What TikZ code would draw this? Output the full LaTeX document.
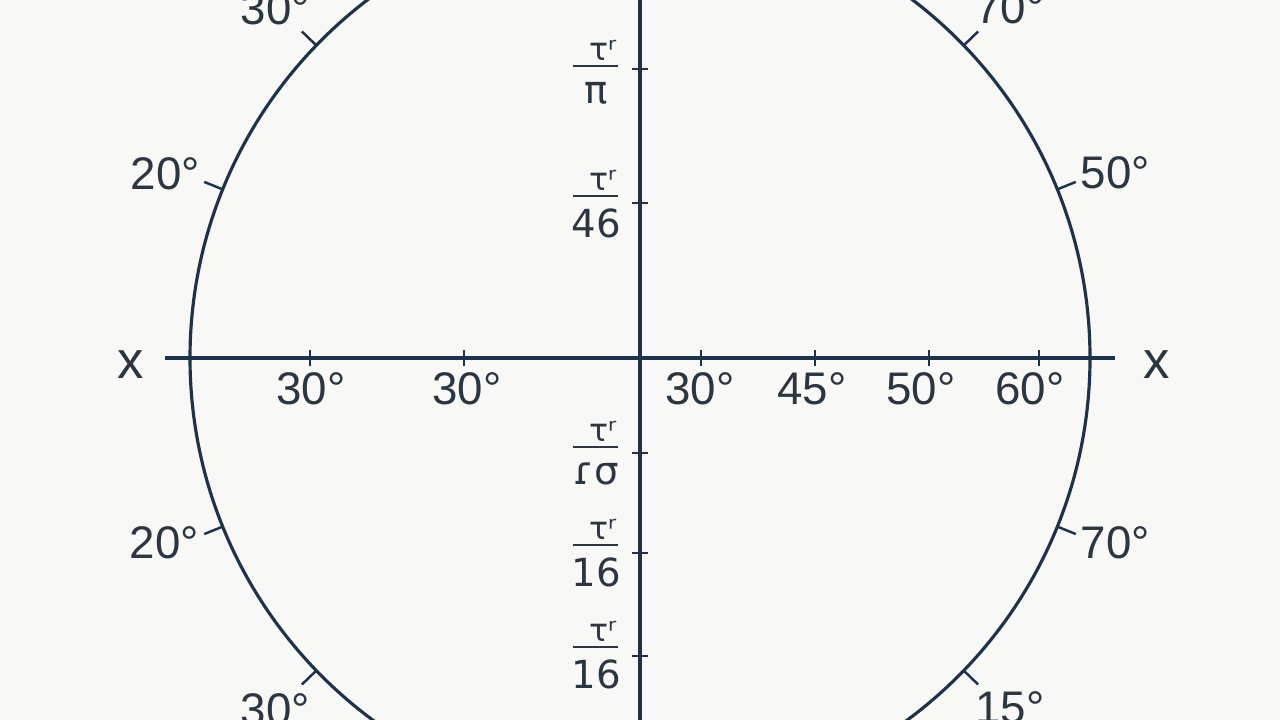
\documentclass[tikz,border=0pt]{standalone}
\usepackage{fontspec}
\setmainfont{Liberation Sans}
\newfontfamily\fracfont{DejaVu Sans}
\definecolor{inkline}{RGB}{30,50,76}
\definecolor{inktext}{RGB}{44,54,64}
\definecolor{paper}{RGB}{248,248,247}

\begin{document}
\begin{tikzpicture}[
    axisline/.style={draw=inkline, line width=0.9pt},
    axtick/.style={draw=inkline, line width=0.7pt},
    circtick/.style={draw=inkline, line width=0.7pt},
    deglabel/.style={text=inktext, font=\fontsize{13}{15}\selectfont, inner sep=0pt},
    axlabel/.style={text=inktext, font=\fontsize{15}{17}\selectfont, inner sep=0pt},
    numlab/.style={text=inktext, font=\fracfont\fontsize{9}{10}\selectfont, inner sep=0pt},
    denlab/.style={text=inktext, font=\fracfont\fontsize{11}{12}\selectfont, inner sep=0pt},
    fracbar/.style={draw=inktext, line width=0.8pt}
]
\useasboundingbox (0,0) rectangle (12.8,7.2);
\fill[paper] (0,0) rectangle (12.8,7.2);
\clip (0,0) rectangle (12.8,7.2);

\coordinate (O) at (6.4,3.62);

% circle and axes
\draw[axisline] (O) circle (4.5);
\coordinate (xl) at (1.65,3.62);
\coordinate (xr) at (11.15,3.62);
\coordinate (yt) at (6.4,7.3);
\coordinate (yb) at (6.4,-0.1);
\draw[axisline] (xl) -- (xr);
\draw[axisline, line width=1pt] (yb) -- (yt);

\node[axlabel] (xleft) at (1.31,3.55) {x};
\node[axlabel] (xright) at (11.57,3.55) {x};

% ticks on the x axis
\draw[axtick] (3.10,3.54) -- (3.10,3.70);
\draw[axtick] (4.64,3.54) -- (4.64,3.70);
\draw[axtick] (7.01,3.54) -- (7.01,3.70);
\draw[axtick] (8.15,3.54) -- (8.15,3.70);
\draw[axtick] (9.29,3.54) -- (9.29,3.70);
\draw[axtick] (10.39,3.54) -- (10.39,3.70);

\node[deglabel] (h1) at (3.11,3.31) {30°};
\node[deglabel] (h2) at (4.67,3.31) {30°};
\node[deglabel] (h3) at (7.00,3.31) {30°};
\node[deglabel] (h4) at (8.12,3.31) {45°};
\node[deglabel] (h5) at (9.21,3.31) {50°};
\node[deglabel] (h6) at (10.30,3.31) {60°};

% ticks on the y axis
\draw[axtick] (6.32,6.51) -- (6.48,6.51);
\draw[axtick] (6.32,5.17) -- (6.48,5.17);
\draw[axtick] (6.32,2.67) -- (6.48,2.67);
\draw[axtick] (6.32,1.67) -- (6.48,1.67);
\draw[axtick] (6.32,0.64) -- (6.48,0.64);

% fractions next to the y axis
\draw[fracbar] (5.73,6.54) -- (6.18,6.54);
\node[numlab] (n1) at (6.03,6.70) {τʳ};
\node[denlab] (d1) at (5.96,6.27) {π};

\draw[fracbar] (5.73,5.24) -- (6.18,5.24);
\node[numlab] (n2) at (6.03,5.40) {τʳ};
\node[denlab] (d2) at (5.96,4.97) {46};

\draw[fracbar] (5.73,2.73) -- (6.18,2.73);
\node[numlab] (n3) at (6.03,2.89) {τʳ};
\node[denlab] (d3) at (5.96,2.46) {ɾσ};

\draw[fracbar] (5.73,1.75) -- (6.18,1.75);
\node[numlab] (n4) at (6.03,1.91) {τʳ};
\node[denlab] (d4) at (5.96,1.48) {16};

\draw[fracbar] (5.73,0.73) -- (6.18,0.73);
\node[numlab] (n5) at (6.03,0.89) {τʳ};
\node[denlab] (d5) at (5.96,0.46) {16};

% ticks on the circle
\draw[circtick] ([shift={(158:4.5)}]O) -- ([shift={(158:4.7)}]O);
\draw[circtick] ([shift={(22:4.5)}]O) -- ([shift={(22:4.7)}]O);
\draw[circtick] ([shift={(202:4.5)}]O) -- ([shift={(202:4.7)}]O);
\draw[circtick] ([shift={(338:4.5)}]O) -- ([shift={(338:4.7)}]O);
\draw[circtick] ([shift={(136:4.5)}]O) -- ([shift={(136:4.7)}]O);
\draw[circtick] ([shift={(44:4.5)}]O) -- ([shift={(44:4.7)}]O);
\draw[circtick] ([shift={(224:4.5)}]O) -- ([shift={(224:4.7)}]O);
\draw[circtick] ([shift={(316:4.5)}]O) -- ([shift={(316:4.7)}]O);

\node[deglabel] (c1) at ([shift={(158.8:5.09)}]O) {20°};
\node[deglabel] (c2) at ([shift={(21.3:5.10)}]O) {50°};
\node[deglabel] (c3) at ([shift={(201.2:5.10)}]O) {20°};
\node[deglabel] (c4) at ([shift={(338.7:5.10)}]O) {70°};
\node[deglabel] (c5) at ([shift={(136.2:5.05)}]O) {30°};
\node[deglabel] (c6) at ([shift={(43.4:5.09)}]O) {70°};
\node[deglabel] (c7) at ([shift={(224:5.07)}]O) {30°};
\node[deglabel] (c8) at ([shift={(316.6:5.09)}]O) {15°};
\end{tikzpicture}
\end{document}
